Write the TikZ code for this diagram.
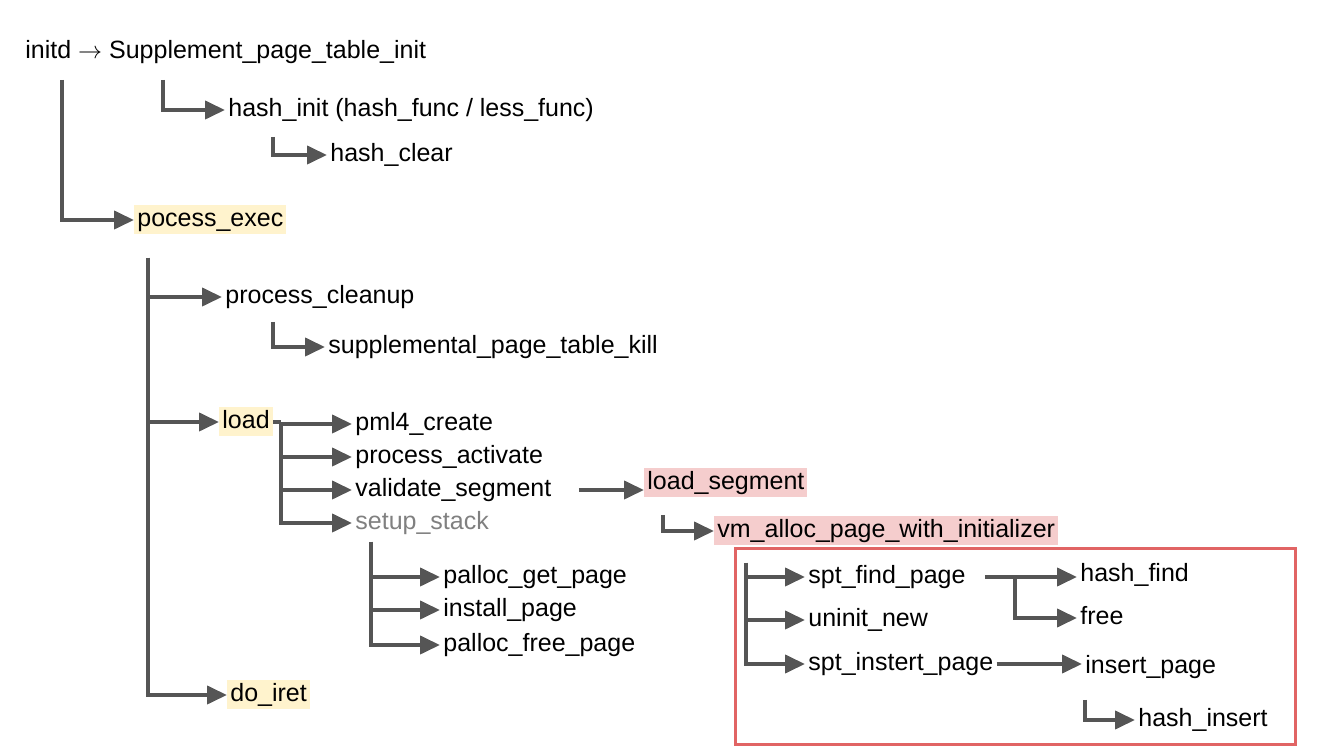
\documentclass[tikz,border=0pt]{standalone}
\usepackage{fontspec}
\setmainfont{Liberation Sans}
\usetikzlibrary{arrows.meta}
\definecolor{lg}{RGB}{85,85,85}
\definecolor{hy}{RGB}{255,243,205}
\definecolor{hp}{RGB}{245,205,205}
\definecolor{rb}{RGB}{225,100,100}
\begin{document}
\begin{tikzpicture}[x=0.5pt,y=-0.5pt,
  lab/.style={anchor=west,inner sep=1.5pt,font=\fontsize{12.5}{14}\selectfont,text height=9pt,text depth=2.5pt},
  hy/.style={lab,fill=hy},
  hp/.style={lab,fill=hp},
  arr/.style={draw=lg,line width=2pt,-{Triangle[length=10pt,width=9pt]}},
  ln/.style={draw=lg,line width=2pt}]
\useasboundingbox (0,0) rectangle (1330,748);
\node[lab] (root) at (22,52) {initd $\rightarrow$ Supplement\_page\_table\_init};
\node[lab] (hinit) at (225,110) {hash\_init (hash\_func / less\_func)};
\node[lab] (hclear) at (327,155) {hash\_clear};
\node[hy] (pexec) at (134,220) {pocess\_exec};
\node[lab] (pclean) at (222,297) {process\_cleanup};
\node[lab] (skill) at (325,347) {supplemental\_page\_table\_kill};
\node[hy] (load) at (219,422) {load};
\node[lab] (pml4) at (352,424) {pml4\_create};
\node[lab] (pact) at (352,457) {process\_activate};
\node[lab] (vseg) at (352,490) {validate\_segment};
\node[lab,text=gray] (sstack) at (352,523) {setup\_stack};
\node[hp] (lseg) at (644,483) {load\_segment};
\node[hp] (vmalloc) at (714,531) {vm\_alloc\_page\_with\_initializer};
\node[lab] (pget) at (440,577) {palloc\_get\_page};
\node[lab] (ipage) at (440,610) {install\_page};
\node[lab] (pfree) at (440,645) {palloc\_free\_page};
\node[hy] (iret) at (227,695) {do\_iret};
\draw[rb,line width=1.5pt] (735,549) rectangle (1295,745);
\node[lab] (sfind) at (805,577) {spt\_find\_page};
\node[lab] (unew) at (805,620) {uninit\_new};
\node[lab] (sins) at (805,664) {spt\_instert\_page};
\node[lab] (hfind) at (1077,575) {hash\_find};
\node[lab] (free) at (1077,618) {free};
\node[lab] (ipg) at (1082,667) {insert\_page};
\node[lab] (hins) at (1135,720) {hash\_insert};
% connectors
\coordinate (c1) at (163,80);
\draw[arr] (c1) |- (hinit.west);
\coordinate (c2) at (273,137);
\draw[arr] (c2) |- (hclear.west);
\coordinate (c3) at (62,80);
\draw[arr] (c3) |- (pexec.west);
\coordinate (c4) at (148,258);
\draw[arr] (c4) |- (pclean.west);
\draw[arr] (c4) |- (load.west);
\draw[arr] (c4) |- (iret.west);
\coordinate (c5) at (273,322);
\draw[arr] (c5) |- (skill.west);
\coordinate (c6) at (281,424);
\draw[ln] (load.east) -- (c6 |- load.east);
\draw[arr] (c6) -- (pml4.west);
\draw[arr] (c6) |- (pact.west);
\draw[arr] (c6) |- (vseg.west);
\draw[arr] (c6) |- (sstack.west);
\draw[arr] ([xshift=12pt]vseg.east) -- (lseg.west |- vseg.east);
\coordinate (c7) at (663,515);
\draw[arr] (c7) |- (vmalloc.west);
\coordinate (c8) at (371,542);
\draw[arr] (c8) |- (pget.west);
\draw[arr] (c8) |- (ipage.west);
\draw[arr] (c8) |- (pfree.west);
\coordinate (c9) at (746,563);
\draw[arr] (c9) |- (sfind.west);
\draw[arr] (c9) |- (unew.west);
\draw[arr] (c9) |- (sins.west);
\coordinate (c10) at (1015,577);
\draw[ln] ([xshift=8pt]sfind.east) -- (c10);
\draw[arr] (c10) -- (hfind.west |- c10);
\draw[arr] (c10) |- (free.west);
\draw[arr] (sins.east) -- (ipg.west |- sins.east);
\coordinate (c11) at (1085,700);
\draw[arr] (c11) |- (hins.west);
\end{tikzpicture}
\end{document}
